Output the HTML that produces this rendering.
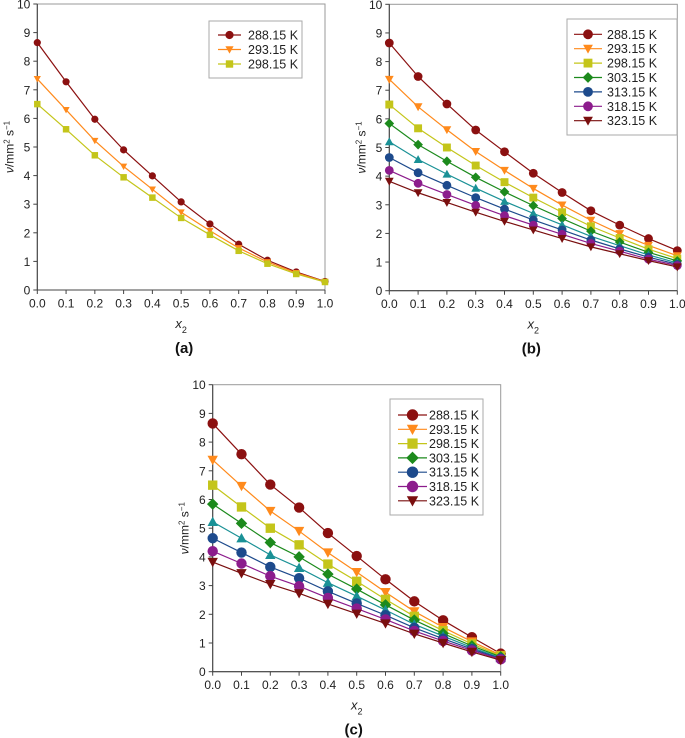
<!DOCTYPE html>
<html><head><meta charset="utf-8"><style>
html,body{margin:0;padding:0;background:#fff;}
svg{display:block;font-family:"Liberation Sans",Arial,sans-serif;}
</style></head><body>
<svg id="chart" width="685" height="738" viewBox="0 0 685 738" xmlns="http://www.w3.org/2000/svg"></svg>
<script>
const xValues = [0,0.1,0.2,0.3,0.4,0.5,0.6,0.7,0.8,0.9,1.0];
const xTicks = ["0.0","0.1","0.2","0.3","0.4","0.5","0.6","0.7","0.8","0.9","1.0"];
const yTicks = [0,1,2,3,4,5,6,7,8,9,10];
const seriesNames = ["288.15 K","293.15 K","298.15 K","303.15 K","teal","313.15 K","318.15 K","323.15 K"];
const panelA288 = [8.65,7.28,5.97,4.9,3.99,3.08,2.31,1.6,1.04,0.63,0.3];
const panelA293 = [7.38,6.3,5.22,4.32,3.52,2.72,2.07,1.47,0.98,0.6,0.29];
const panelA298 = [6.5,5.62,4.71,3.94,3.23,2.52,1.93,1.37,0.92,0.56,0.28];
const panelB288 = [8.65,7.48,6.52,5.61,4.85,4.1,3.43,2.79,2.29,1.82,1.4];
const panelB293 = [7.38,6.42,5.62,4.86,4.2,3.57,2.99,2.46,1.99,1.58,1.22];
const panelB298 = [6.5,5.67,5.0,4.37,3.79,3.25,2.74,2.25,1.84,1.45,1.12];
const panelB303 = [5.84,5.1,4.52,3.96,3.45,2.97,2.52,2.08,1.7,1.34,1.04];
const panelBteal = [5.2,4.58,4.07,3.58,3.12,2.7,2.3,1.9,1.57,1.25,0.97];
const panelB313 = [4.65,4.12,3.68,3.25,2.85,2.47,2.12,1.77,1.46,1.17,0.92];
const panelB318 = [4.2,3.75,3.36,2.98,2.62,2.29,1.97,1.65,1.38,1.1,0.88];
const panelB323 = [3.82,3.42,3.08,2.74,2.42,2.12,1.82,1.53,1.29,1.05,0.83];
const panelC288 = [8.65,7.58,6.52,5.72,4.83,4.03,3.22,2.45,1.79,1.2,0.63];
const panelC293 = [7.38,6.47,5.6,4.9,4.15,3.47,2.77,2.1,1.55,1.05,0.58];
const panelC298 = [6.5,5.74,5.0,4.42,3.75,3.15,2.52,1.93,1.43,0.97,0.55];
const panelC303 = [5.84,5.17,4.5,4.0,3.4,2.88,2.33,1.8,1.33,0.9,0.52];
const panelCteal = [5.22,4.65,4.07,3.62,3.1,2.63,2.15,1.65,1.24,0.84,0.48];
const panelC313 = [4.65,4.15,3.65,3.26,2.8,2.38,1.97,1.53,1.15,0.79,0.46];
const panelC318 = [4.2,3.77,3.33,2.98,2.57,2.2,1.82,1.42,1.07,0.74,0.43];
const panelC323 = [3.82,3.43,3.05,2.73,2.36,2.02,1.68,1.32,1.0,0.69,0.4];

const colors = ["#8b1010","#ff8a1c","#c4c51a","#1c8a1c","#1a9196","#1d4a8c","#8c1c8c","#7a0f0f"];
const shapes = ["circle","tdown","square","diamond","tup","circle","circle","tdown"];
const NS="http://www.w3.org/2000/svg";
const svg=document.getElementById('chart');
function mk(tag,attrs,parent){const e=document.createElementNS(NS,tag);for(const k in attrs)e.setAttribute(k,attrs[k]);(parent||svg).appendChild(e);return e;}
function marker(g,shape,cx,cy,r,color){
  let e;
  if(shape==="circle") e=mk('circle',{cx:cx,cy:cy,r:r,fill:color},g);
  else if(shape==="square") e=mk('rect',{x:cx-r*0.9,y:cy-r*0.9,width:r*1.8,height:r*1.8,fill:color},g);
  else if(shape==="diamond") e=mk('polygon',{points:`${cx},${cy-r*1.1} ${cx+r*1.1},${cy} ${cx},${cy+r*1.1} ${cx-r*1.1},${cy}`,fill:color},g);
  else if(shape==="tdown") e=mk('polygon',{points:`${cx-r},${cy-r*0.8} ${cx+r},${cy-r*0.8} ${cx},${cy+r}`,fill:color},g);
  else e=mk('polygon',{points:`${cx-r},${cy+r*0.8} ${cx+r},${cy+r*0.8} ${cx},${cy-r}`,fill:color},g);
  
  
}
function panel(p){
  const g=mk('g',{});
  
  
  const xs=v=>p.x0+(p.x1-p.x0)*v;
  const ys=v=>p.y0-(p.y0-p.y10)*v/10;
  const fr=mk('rect',{x:p.x0,y:p.y10,width:p.x1-p.x0,height:p.y0-p.y10,fill:'none',stroke:'#9a9a9a','stroke-width':1},g);
  
  mk('polyline',{points:`${p.x0},${p.y10} ${p.x0},${p.y0} ${p.x1},${p.y0}`,fill:'none',stroke:'#444','stroke-width':1.1},g);
  yTicks.forEach(t=>{
    mk('line',{x1:p.x0-4,x2:p.x0,y1:ys(t),y2:ys(t),stroke:'#444'},g);
    const tx=mk('text',{x:p.x0-7,y:ys(t)+4.5,'text-anchor':'end','font-size':12,fill:'#222'},g);
    tx.textContent=t;
    
  });
  xValues.forEach((v,i)=>{
    mk('line',{x1:xs(v),x2:xs(v),y1:p.y0,y2:p.y0+4,stroke:'#444'},g);
    const tx=mk('text',{x:xs(v),y:p.y0+17.5,'text-anchor':'middle','font-size':12,fill:'#222'},g);
    tx.textContent=xTicks[i];
    
  });
  const yt=mk('text',{x:0,y:0,'text-anchor':'middle','font-size':12,fill:'#222',transform:`translate(${p.x0-24},${(p.y0+p.y10)/2}) rotate(-90)`},g);
  yt.innerHTML='<tspan font-style="italic">ν</tspan>/mm<tspan baseline-shift="super" font-size="8">2</tspan> s<tspan baseline-shift="super" font-size="8">−1</tspan>';
  
  const xt=mk('text',{x:(p.x0+p.x1)/2,y:p.y0+38,'text-anchor':'middle','font-size':13,fill:'#222'},g);
  xt.innerHTML='<tspan font-style="italic">x</tspan><tspan baseline-shift="sub" font-size="9">2</tspan>';
  
  const pl=mk('text',{x:(p.x0+p.x1)/2-p.labShift,y:p.y0+63,'text-anchor':'middle','font-size':15,'font-weight':'bold',fill:'#111'},g);
  pl.textContent='('+p.id+')';
  
  p.series.forEach(s=>{
    const sg=mk('g',{},g);
    
    
    const pts=s.d.map((v,j)=>xs(xValues[j])+','+ys(v)).join(' ');
    mk('polyline',{points:pts,fill:'none',stroke:colors[s.i],'stroke-width':1.2},sg);
    s.d.forEach((v,j)=>marker(sg,shapes[s.i],xs(xValues[j]),ys(v),p.r,colors[s.i]));
  });
  const L=p.leg;
  const lg=mk('g',{},g);
  
  mk('rect',{x:L.x,y:L.y,width:L.w,height:L.h,fill:'#fff',stroke:'#aaa'},lg);
  L.items.forEach((si,k)=>{
    const ry=L.ry+k*L.dy;
    const eg=mk('g',{},lg);
    
    mk('line',{x1:L.lx1,x2:L.lx2,y1:ry,y2:ry,stroke:colors[si],'stroke-width':1.2},eg);
    marker(eg,shapes[si],(L.lx1+L.lx2)/2,ry,p.r+0.5,colors[si]);
    const t=mk('text',{x:L.tx,y:ry+4.5,'font-size':12.5,fill:'#222'},eg);
    t.textContent=seriesNames[si];
  });
}
panel({id:'a',x0:37.3,x1:325,y0:290,y10:4,r:3.6,labShift:-3,
  series:[{i:0,d:panelA288},{i:1,d:panelA293},{i:2,d:panelA298}],
  leg:{x:209,y:21,w:93,h:57,ry:35,dy:14.5,lx1:218,lx2:241,tx:248,items:[0,1,2]}});
panel({id:'b',x0:389.3,x1:677.3,y0:290.7,y10:4.3,r:4.4,labShift:2,
  series:[{i:0,d:panelB288},{i:1,d:panelB293},{i:2,d:panelB298},{i:3,d:panelB303},{i:4,d:panelBteal},{i:5,d:panelB313},{i:6,d:panelB318},{i:7,d:panelB323}],
  leg:{x:567,y:19,w:110,h:116,ry:34.3,dy:14.4,lx1:574,lx2:602,tx:607,items:[0,1,2,3,5,6,7]}});
panel({id:'c',x0:212.7,x1:500.7,y0:671.7,y10:384.7,r:5.2,labShift:3,
  series:[{i:0,d:panelC288},{i:1,d:panelC293},{i:2,d:panelC298},{i:3,d:panelC303},{i:4,d:panelCteal},{i:5,d:panelC313},{i:6,d:panelC318},{i:7,d:panelC323}],
  leg:{x:390,y:399,w:93,h:116,ry:415,dy:14.3,lx1:398,lx2:427,tx:429,items:[0,1,2,3,5,6,7]}});
</script>
</body></html>
